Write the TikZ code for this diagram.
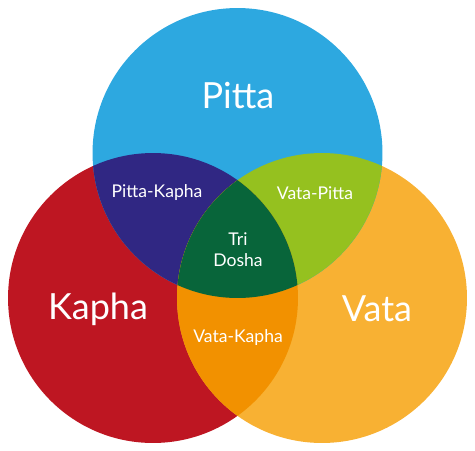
\documentclass[tikz,border=0pt]{standalone}
\usepackage{fontspec}
\setmainfont{Lato}
\definecolor{pittablue}{HTML}{2DA8E0}
\definecolor{kaphared}{HTML}{BE1622}
\definecolor{vataorange}{HTML}{F8B133}
\definecolor{pkindigo}{HTML}{302783}
\definecolor{vpgreen}{HTML}{95C11F}
\definecolor{vkorange}{HTML}{F29100}
\definecolor{tridark}{HTML}{08653A}

\begin{document}
\begin{tikzpicture}[x=0.02cm, y=-0.02cm]
			\useasboundingbox (0,0) rectangle (475,450);
			\coordinate (p) at (237.5,153);
			\coordinate (k) at (153,298);
			\coordinate (v) at (322,298);
			\fill[kaphared] (k) circle[radius=2.9cm];
			\fill[vataorange] (v) circle[radius=2.9cm];
			\fill[pittablue] (p) circle[radius=2.9cm];
			\begin{scope}
			\clip (p) circle[radius=2.9cm];
			\fill[pkindigo] (k) circle[radius=2.9cm];
			\fill[vpgreen] (v) circle[radius=2.9cm];
			\end{scope}
			\begin{scope}
			\clip (k) circle[radius=2.9cm];
			\fill[vkorange] (v) circle[radius=2.9cm];
			\clip (p) circle[radius=2.9cm];
			\fill[tridark] (v) circle[radius=2.9cm];
			\end{scope}
			\node[text=white, font=\fontsize{20.5}{24}\selectfont](pitta) at (238,96){Pitta};
			\node[text=white, font=\fontsize{20.5}{24}\selectfont](kapha) at (98,309){Kapha};
			\node[text=white, font=\fontsize{20.5}{24}\selectfont](vata) at (377,309){Vata};
			\node[text=white, font=\fontsize{10}{12}\selectfont](pittakapha) at (157,193){Pitta-Kapha};
			\node[text=white, font=\fontsize{10}{12}\selectfont](vatapitta) at (315,193){Vata-Pitta};
			\node[text=white, font=\fontsize{10}{12}\selectfont](vatakapha) at (238,338){Vata-Kapha};
			\node[text=white, align=center, font=\fontsize{10}{12}\selectfont](tridosha) at (238,250){Tri\\Dosha};
			\end{tikzpicture}
\end{document}
